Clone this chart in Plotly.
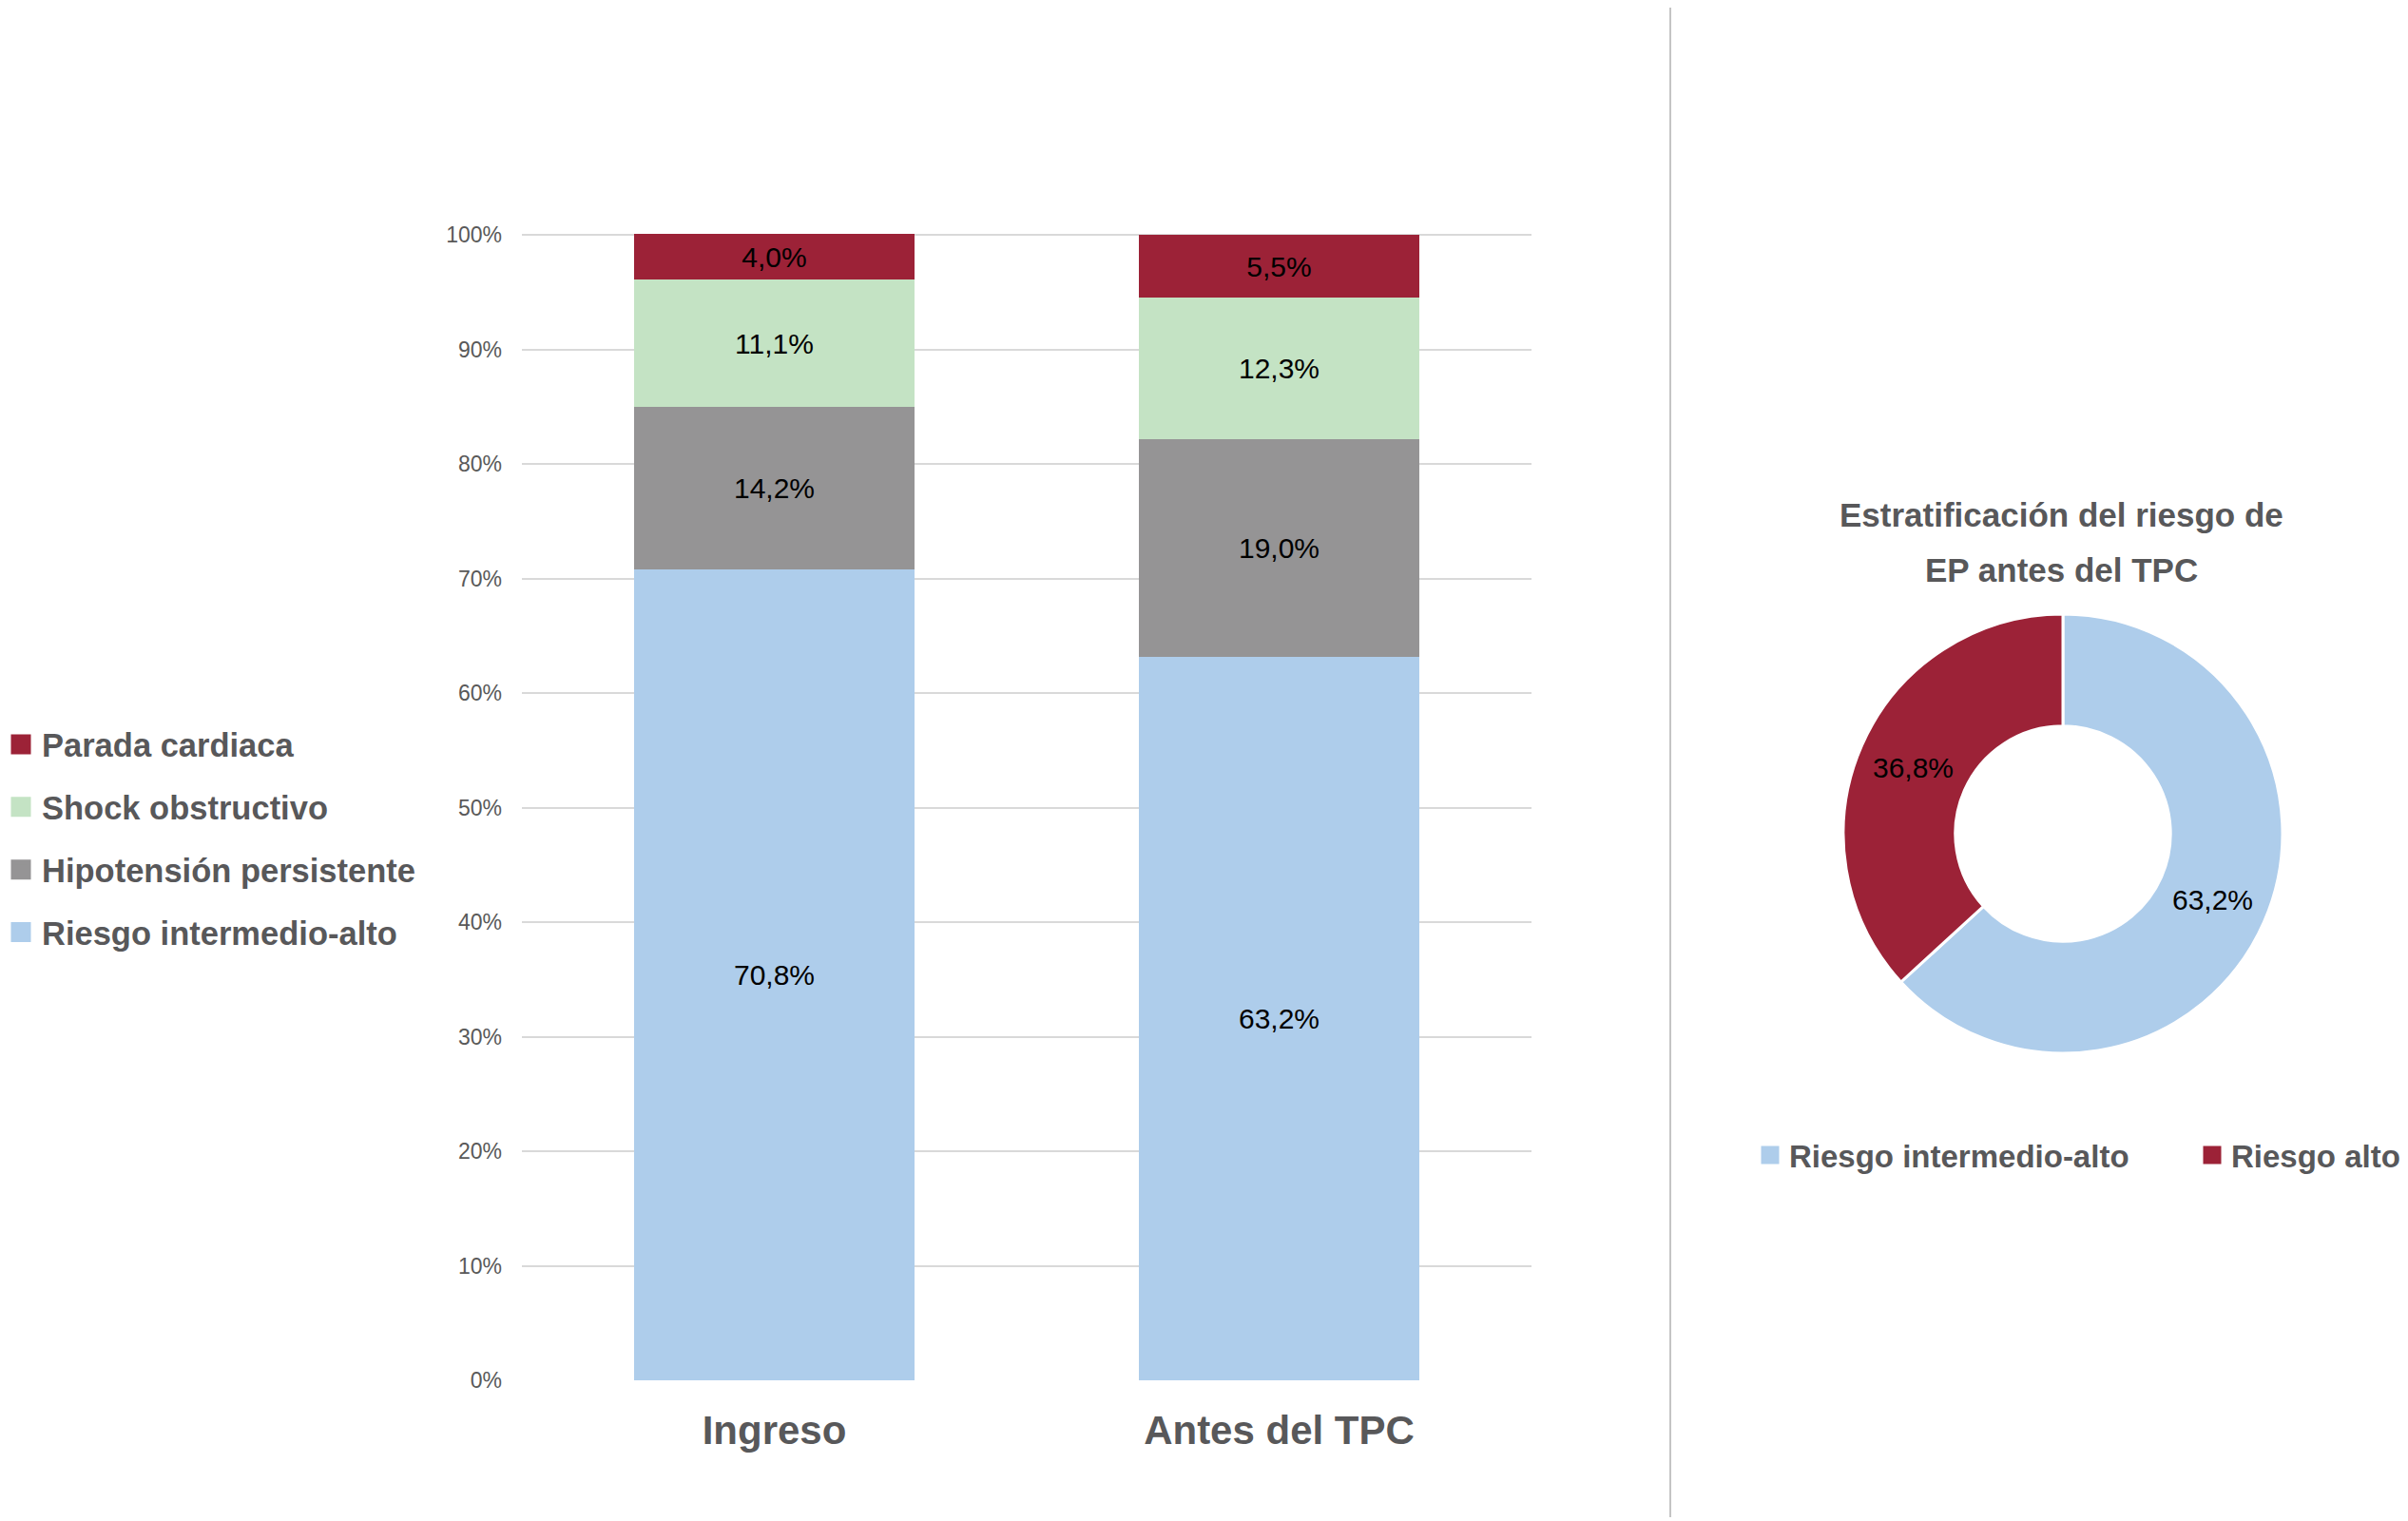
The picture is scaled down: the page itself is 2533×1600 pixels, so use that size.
import plotly.graph_objects as go

W, H = 2533, 1600

# ---- data ----
categories = ["Ingreso", "Antes del TPC"]
riesgo_intermedio_alto = [70.8, 63.2]
hipotension_persistente = [14.2, 19.0]
shock_obstructivo = [11.1, 12.3]
parada_cardiaca = [4.0, 5.5]

series_names = ["Riesgo intermedio-alto", "Hipotensión persistente", "Shock obstructivo", "Parada cardiaca"]
series_values = [riesgo_intermedio_alto, hipotension_persistente, shock_obstructivo, parada_cardiaca]
series_colors = ["#AECDEB", "#959495", "#C4E3C4", "#9C2237"]

pie_labels = ["Riesgo intermedio-alto", "Riesgo alto"]
pie_values = [63.2, 36.8]
pie_colors = ["#AECDEB", "#9C2237"]
pie_title = ["Estratificación del riesgo de", "EP antes del TPC"]

y_ticks = list(range(0, 101, 10))

FONT = "Liberation Sans, Arial, Helvetica, sans-serif"
GRAY = "#58585A"


def px(xp):
    return xp / W


def py(yp):
    return 1 - yp / H


fig = go.Figure()

# stacked bars
for name, vals, col in zip(series_names, series_values, series_colors):
    fig.add_trace(go.Bar(
        x=categories, y=vals, name=name, marker=dict(color=col, line=dict(width=0)),
        texttemplate="%{y:.1f}%", textposition="inside", insidetextanchor="middle",
        textangle=0, textfont=dict(family=FONT, size=30, color="black"),
        showlegend=False, hoverinfo="skip", cliponaxis=False,
    ))

# legend entries for bars (top to bottom)
for name, col in zip(series_names[::-1], series_colors[::-1]):
    fig.add_trace(go.Scatter(
        x=[None], y=[None], mode="markers", name=name, legend="legend",
        legendgroup=name,
        marker=dict(symbol="square", size=16, color=col, line=dict(color=col, width=5)),
    ))

# donut
fig.add_trace(go.Pie(
    labels=pie_labels, values=pie_values, sort=False, direction="clockwise", rotation=0,
    hole=0.49, marker=dict(colors=pie_colors, line=dict(color="white", width=3)),
    texttemplate="%{value:.1f}%", textposition="inside", insidetextorientation="horizontal",
    textfont=dict(family=FONT, size=30, color="black"),
    domain=dict(x=[px(2170 - 231), px(2170 + 231)], y=[py(877 + 231), py(877 - 231)]),
    showlegend=False, hoverinfo="skip",
))

# legend entries for donut
for name, col, lw in zip(pie_labels, pie_colors, [420, 178]):
    fig.add_trace(go.Scatter(
        x=[None], y=[None], mode="markers", name=name, legend="legend2", legendwidth=lw,
        marker=dict(symbol="square", size=16, color=col, line=dict(color=col, width=3)),
    ))

annotations = [
    dict(text=pie_title[0], x=px(2168), y=py(541), xref="paper", yref="paper",
         showarrow=False, xanchor="center", yanchor="middle",
         font=dict(family=FONT, size=35, color=GRAY, weight="bold")),
    dict(text=pie_title[1], x=px(2168), y=py(599), xref="paper", yref="paper",
         showarrow=False, xanchor="center", yanchor="middle",
         font=dict(family=FONT, size=35, color=GRAY, weight="bold")),
]

fig.update_layout(
    width=W, height=H, autosize=False,
    margin=dict(l=0, r=0, t=0, b=0, autoexpand=False),
    paper_bgcolor="white", plot_bgcolor="white",
    barmode="stack", bargap=0.443,
    separators=",.",
    font=dict(family=FONT, color=GRAY),
    xaxis=dict(domain=[px(549), px(1611)], showgrid=False, zeroline=False, showline=False,
               tickfont=dict(family=FONT, size=42, color=GRAY, weight="bold"),
               ticklabelstandoff=24, fixedrange=True),
    yaxis=dict(domain=[py(1452), py(246)], range=[0, 100.1], tickvals=y_ticks,
               ticktext=[f"{v}%" for v in y_ticks],
               showgrid=True, gridcolor="#D9D9D9", gridwidth=2, zeroline=False, showline=False,
               tickfont=dict(family=FONT, size=23, color="#595959"),
               ticklabelstandoff=20, fixedrange=True),
    legend=dict(x=0, xanchor="left", y=py(754), yanchor="top", traceorder="grouped",
                tracegroupgap=18, itemwidth=34,
                font=dict(family=FONT, size=34.5, color=GRAY, weight="bold"),
                bgcolor="rgba(0,0,0,0)", itemclick=False, itemdoubleclick=False),
    legend2=dict(x=px(1842), xanchor="left", y=py(1215), yanchor="middle", orientation="h",
                 font=dict(family=FONT, size=33, color=GRAY, weight="bold"),
                 bgcolor="rgba(0,0,0,0)", itemclick=False, itemdoubleclick=False),
    shapes=[dict(type="line", xref="paper", yref="paper", x0=px(1757), x1=px(1757),
                 y0=py(8), y1=py(1596), line=dict(color="#C4C4C4", width=2))],
    annotations=annotations,
)

fig.write_html("out.html")
